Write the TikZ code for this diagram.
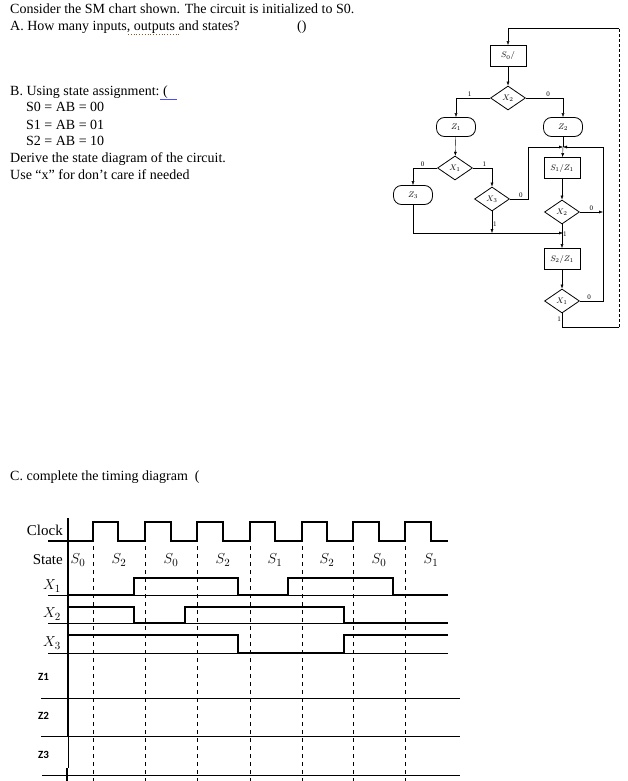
\documentclass[tikz,border=0pt]{standalone}
\usepackage{fontspec}
\setmainfont{Liberation Serif}
\newfontfamily\calib{Carlito}
\usetikzlibrary{shapes.geometric,arrows.meta}
\begin{document}
\begin{tikzpicture}[x=1pt,y=-1pt,
  txt/.style={anchor=base west,inner sep=0,font=\fontsize{14}{16}\selectfont},
  sbox/.style={draw,thick,minimum width=36,minimum height=21,inner sep=0,font=\fontsize{8}{9}\selectfont},
  obox/.style={draw,thick,rounded corners=8,minimum width=39,minimum height=19,inner sep=0,font=\fontsize{8}{9}\selectfont},
  dia/.style={draw,thick,diamond,aspect=1.45,minimum width=35,minimum height=24,inner sep=0,font=\fontsize{8}{9}\selectfont},
  fl/.style={draw,thin,-{Latex[length=4pt,width=3pt]}},
  ln/.style={draw,thin},
  bl/.style={font=\fontsize{7}{8}\selectfont,inner sep=1},
  sig/.style={draw,line width=1.2pt},
  base/.style={draw,line width=0.8pt},
  dsh/.style={draw,dashed,dash pattern=on 4pt off 4pt,thin},
  lab/.style={anchor=east,inner sep=0,font=\fontsize{15}{17}\selectfont},
  zl/.style={anchor=west,inner sep=0,font=\calib\bfseries\fontsize{11}{13}\selectfont}]
\useasboundingbox (0,0) rectangle (628,781);
% text
\node[txt] (t1) at (10,14) {Consider the SM chart shown. The circuit is initialized to S0.};
\node[txt] (t2) at (10,31) {A. How many inputs, outputs and states?};
\node[txt] (t3) at (297,31) {()};
\draw[dotted,thick,brown!70!black] (128,34) -- (179,34);
\node[txt] (t4) at (10,96) {B. Using state assignment:\ (};
\draw[blue!70] (160,99) -- (177,99);
\node[txt] (t5) at (26,112) {S0 = AB = 00};
\node[txt] (t6) at (26,129) {S1 = AB = 01};
\node[txt] (t7) at (26,146) {S2 = AB = 10};
\node[txt] (t8) at (10,162) {Derive the state diagram of the circuit.};
\node[txt] (t9) at (10,179) {Use “x” for don’t care if needed};
\node[txt] (t10) at (10,480) {C. complete the timing diagram\ \ (};
% SM chart
\node[sbox] (s0) at (508,56) {$S_0/$};
\node[dia] (d1) at (508,98) {$X_2$};
\node[obox] (z1) at (456,127) {$Z_1$};
\node[obox] (z2) at (563,127) {$Z_2$};
\node[dia] (d2) at (455,168) {$X_1$};
\node[obox] (z3) at (413,195) {$Z_3$};
\node[dia] (d3) at (492,199) {$X_3$};
\node[sbox] (s1) at (562,168) {$S_1/Z_1$};
\node[dia] (d4) at (562,212) {$X_2$};
\node[sbox] (s2) at (562,259) {$S_2/Z_1$};
\node[dia] (d5) at (562,301) {$X_1$};
\coordinate (top) at (508,28);
\coordinate (tr) at (619,28);
\coordinate (br) at (619,327);
\coordinate (m1) at (563,147);
\coordinate (m2) at (563,233);
\coordinate (rr) at (603,147);
\draw[fl] (top) -- (s0);
\draw[fl] (s0) -- (d1);
\draw[fl] (d1.west) -| (z1.north) node[bl,pos=0.3,above]{1};
\draw[fl] (d1.east) -| (z2.north) node[bl,pos=0.3,above]{0};
\draw[fl] (z1) -- (d2);
\draw[fl] (d2.west) -| (z3.north) node[bl,pos=0.3,above]{0};
\draw[fl] (d2.east) -| (d3.north) node[bl,pos=0.3,above]{1};
\draw[ln] (z2.south) -- (m1);
\draw[fl] (d3.east) -| (528,147) node[bl,pos=0.3,above]{0} -- (m1);
\draw[fl] (m1) -- (s1);
\draw[fl] (s1) -- (d4);
\draw[fl] (d4.east) -- (rr |- d4.east) node[bl,pos=0.5,above]{0};
\draw[fl] (d3.south) -- (492,233) node[bl,right,pos=0.6]{1};
\draw[fl] (z3.south) |- (m2);
\draw[fl] (d4.south) -- (s2) node[bl,right,pos=0.4]{1};
\draw[fl] (s2) -- (d5);
\draw[fl] (d5.east) -| (rr) node[bl,pos=0.2,above]{0} -- (m1);
\draw[ln] (d5.south) |- (br) node[bl,pos=0.2,left]{1};
\draw[ln,densely dashed] (br) -- (tr);
\draw[ln] (tr) -- (top);
% timing diagram
\coordinate (ax0) at (68,518);
\coordinate (ax1) at (68,736);
\draw[line width=1.3pt] (ax0) -- (ax1);
\draw[thin] (68,736) -- (68,768);
\draw[line width=1.3pt] (67,768) -- (67,781);
\node[lab] (lc) at (63,530) {Clock};
\node[lab] (ls) at (63,560) {State};
\node[lab] (lx1) at (61,586) {$X_1$};
\node[lab] (lx2) at (61,614) {$X_2$};
\node[lab] (lx3) at (61,643) {$X_3$};
\node[zl] (lz1) at (38,677) {Z1};
\node[zl] (lz2) at (38,716) {Z2};
\node[zl] (lz3) at (38,755) {Z3};
\draw[sig] (48,541) -- (93,541) -- (93,522) -- (118,522) -- (118,541) -- (145,541) -- (145,522) -- (171,522) -- (171,541) -- (197,541) -- (197,522) -- (223,522) -- (223,541) -- (250,541) -- (250,522) -- (275,522) -- (275,541) -- (302,541) -- (302,522) -- (327,522) -- (327,541) -- (353,541) -- (353,522) -- (379,522) -- (379,541) -- (405,541) -- (405,522) -- (431,522) -- (431,541) -- (448,541);
\foreach \x/\s [count=\i] in {78/0,119/2,171/0,223/2,275/1,327/2,379/0,431/1}
  \node[font=\fontsize{15}{17}\selectfont,inner sep=0] (st\i) at (\x,560) {$S_{\s}$};
\foreach \x [count=\i] in {93,145,197,250,302,353,405}
  \draw[dsh] (\x,546) -- (\x,781);
\draw[base] (48,595) -- (448,595);
\draw[base] (48,623) -- (448,623);
\draw[base] (48,653) -- (448,653);
\draw[sig] (68,595) -- (134,595) -- (134,578) -- (238,578) -- (238,595) -- (288,595) -- (288,578) -- (393,578) -- (393,595) -- (448,595);
\draw[sig] (68,607) -- (134,607) -- (134,623) -- (185,623) -- (185,607) -- (344,607) -- (344,623) -- (448,623);
\draw[sig] (68,635) -- (238,635) -- (238,653) -- (344,653) -- (344,635) -- (448,635);
\draw[thin] (41,698) -- (460,698);
\draw[thin] (41,736) -- (460,736);
\draw[thin] (42,775) -- (460,775);
\end{tikzpicture}
\end{document}
